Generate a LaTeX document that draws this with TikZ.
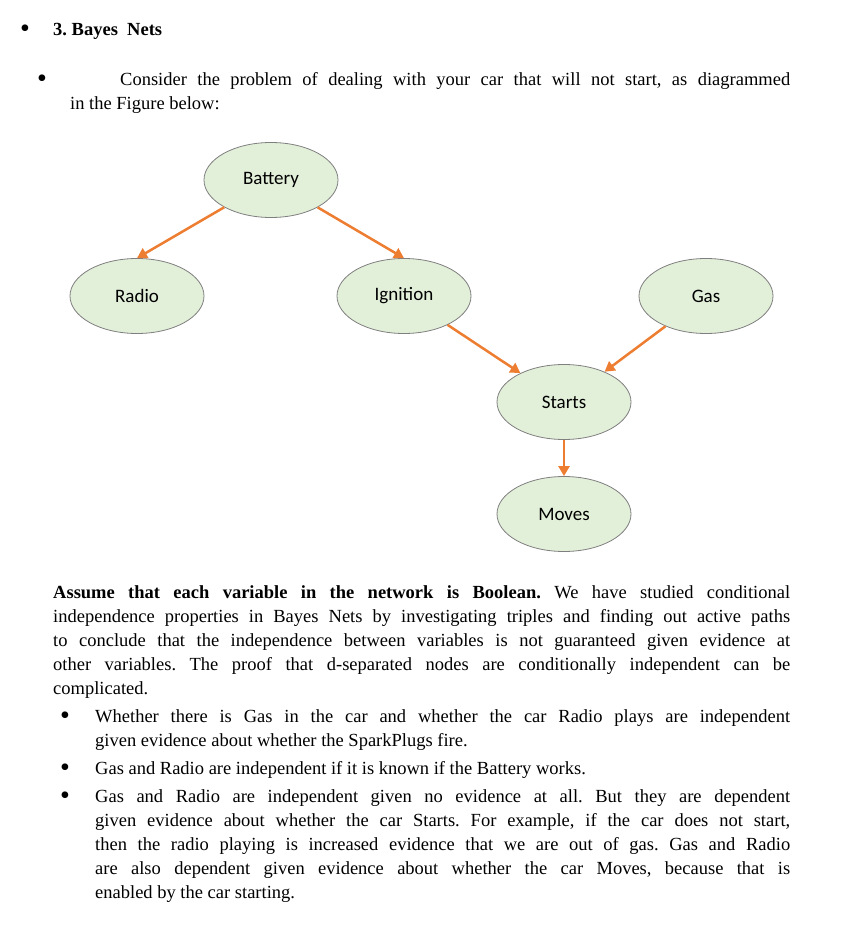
\documentclass[tikz,border=0pt]{standalone}
\usepackage{fontspec}
\setmainfont{Liberation Serif}
\newfontfamily\nodefont{Carlito}
\usepackage{xcolor}
\usetikzlibrary{shapes.geometric, arrows.meta}

\definecolor{netfill}{HTML}{E2EFD9}
\definecolor{netline}{HTML}{7F7F7F}
\definecolor{netarrow}{HTML}{ED7D31}

\tikzset{
    bnode/.style={draw=netline, line width=0.8pt, fill=netfill, ellipse, minimum width=134pt, minimum height=75pt, inner sep=0pt, font=\nodefont\fontsize{19}{22}\selectfont},
    causal/.style={draw=netarrow, line width=2.5pt, -{Triangle[length=10pt,width=11pt]}},
    txt/.style={anchor=base west, inner sep=0pt, font=\fontsize{18.5}{24}\selectfont},
    bul/.style={anchor=base, inner sep=0pt, font=\fontsize{28}{24}\selectfont}
}

\begin{document}
\frenchspacing
\begin{tikzpicture}[x=1pt, y=-1pt]
    \useasboundingbox (0,0) rectangle (865,925);

    % Heading and intro
    \node[bul] (h0) at (25,38) {\textbullet};
    \node[txt, font=\fontsize{18.5}{24}\selectfont\bfseries] (h1) at (53,36) {3. Bayes\ \ Nets};
    \node[bul] (i0) at (42,88) {\textbullet};
    \node[txt] (i1) at (120,86) {\makebox[670pt][s]{Consider the problem of dealing with your car that will not start, as diagrammed}};
    \node[txt] (i2) at (70,110) {in the Figure below:};

    % Network
    \node[bnode] (battery) at (271,180) {Battery};
    \node[bnode] (radio) at (137,296) {Radio};
    \node[bnode] (ignition) at (404,296) {Ignition};
    \node[bnode] (gas) at (706,296) {Gas};
    \node[bnode] (starts) at (564,402) {Starts};
    \node[bnode] (moves) at (564,514) {Moves};

    \draw[causal] (battery) -- (radio.north);
    \draw[causal] (battery) -- (ignition.north);
    \draw[causal] (ignition) -- (starts);
    \draw[causal] (gas) -- (starts);
    \draw[causal] (starts) -- (moves);

    % Paragraph
    \node[txt] (p1) at (53,598) {\makebox[737pt][s]{\textbf{Assume that each variable in the network is Boolean.} We have studied conditional}};
    \node[txt] (p2) at (53,622) {\makebox[737pt][s]{independence properties in Bayes Nets by investigating triples and finding out active paths}};
    \node[txt] (p3) at (53,646) {\makebox[737pt][s]{to conclude that the independence between variables is not guaranteed given evidence at}};
    \node[txt] (p4) at (53,670) {\makebox[737pt][s]{other variables. The proof that d-separated nodes are conditionally independent can be}};
    \node[txt] (p5) at (53,694) {complicated.};

    % Bullets
    \node[bul] (a0) at (65,724) {\textbullet};
    \node[txt] (a1) at (95,722) {\makebox[695pt][s]{Whether there is Gas in the car and whether the car Radio plays are independent}};
    \node[txt] (a2) at (95,746) {given evidence about whether\ the SparkPlugs fire.};
    \node[bul] (b0) at (65,776) {\textbullet};
    \node[txt] (b1) at (95,774) {Gas and Radio are independent if it is known if the Battery\ works.};
    \node[bul] (c0) at (65,804) {\textbullet};
    \node[txt] (c1) at (95,802) {\makebox[695pt][s]{Gas and Radio are independent given no evidence at all. But they are dependent}};
    \node[txt] (c2) at (95,826) {\makebox[695pt][s]{given evidence about whether the car Starts. For example, if the car does not start,}};
    \node[txt] (c3) at (95,850) {\makebox[695pt][s]{then the radio playing is increased evidence that we are out of gas. Gas and Radio}};
    \node[txt] (c4) at (95,874) {\makebox[695pt][s]{are also dependent given evidence about whether the car Moves, because that is}};
    \node[txt] (c5) at (95,898) {enabled by the car starting.};
\end{tikzpicture}
\end{document}
